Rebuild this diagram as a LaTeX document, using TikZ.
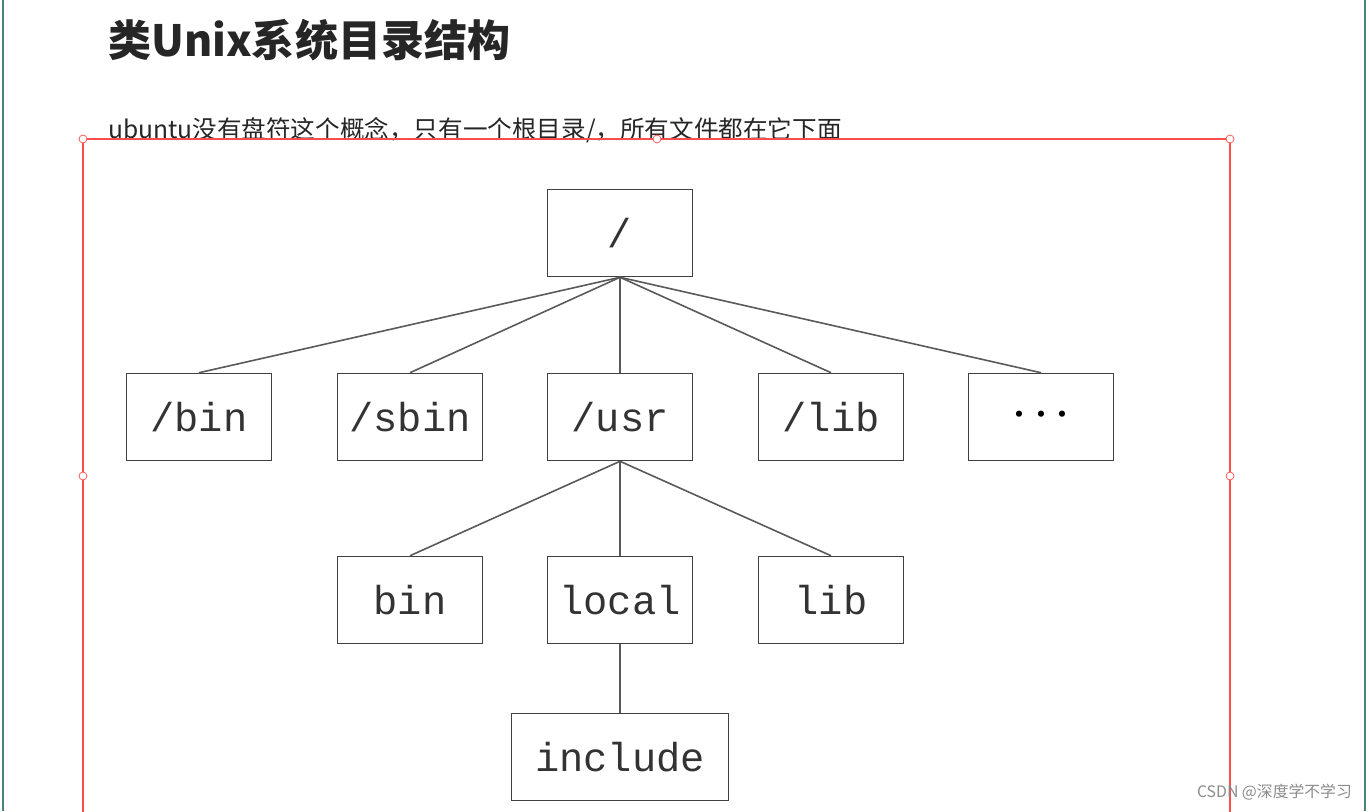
\documentclass[tikz,border=0pt]{standalone}
\usepackage{fontspec}
\newfontfamily\cjk{Noto Sans CJK SC}
\newfontfamily\boxfont{Liberation Mono}
\begin{document}
\begin{tikzpicture}[x=0.02cm,y=-0.02cm,
  dir/.style={draw=black!75,line width=0.9pt,minimum width=2.9cm,minimum height=1.74cm,inner sep=0pt,font=\boxfont\fontsize{23}{23}\selectfont,text=black!80},
  link/.style={draw=black!65,line width=0.9pt},
  handle/.style={circle,draw=red!70,fill=white,inner sep=1.6pt}]
\useasboundingbox (0,0) rectangle (1371,811);
\fill[white] (0,0) rectangle (1371,811);
\draw[teal!40!gray,line width=1.5pt] (3,0) -- (3,811);
\draw[teal!40!gray,line width=1.5pt] (1365,0) -- (1365,811);
\node[anchor=west,font=\cjk\bfseries\fontsize{24.5}{24.5}\selectfont,text=black!85] (title) at (102,40) {类Unix系统目录结构};
\node[anchor=west,font=\cjk\fontsize{14}{14}\selectfont,text=black!85] (sub) at (102,130) {ubuntu没有盘符这个概念，只有一个根目录/，所有文件都在它下面};
\draw[red!70,line width=1pt] (83,830) -- (83,139) -- (1230,139) -- (1230,830);
\foreach \p in {(83,139),(657,139),(1230,139),(83,476),(1230,476)} \node[handle] at \p {};
\node[dir] (root) at (620,233) {/};
\node[dir] (bin) at (199,417) {/bin};
\node[dir] (sbin) at (410,417) {/sbin};
\node[dir] (usr) at (620,417) {/usr};
\node[dir] (lib) at (831,417) {/lib};
\node[dir,font=\cjk\bfseries\fontsize{12.5}{12.5}\selectfont,text=black] (more) at (1041,417) {···};
\node[dir] (ubin) at (410,600) {bin};
\node[dir] (local) at (620,600) {local};
\node[dir] (ulib) at (831,600) {lib};
\node[dir,minimum width=4.34cm] (inc) at (620,757) {include};
\foreach \c in {bin,sbin,usr,lib,more} \draw[link] (root.south) -- (\c.north);
\foreach \c in {ubin,local,ulib} \draw[link] (usr.south) -- (\c.north);
\draw[link] (local.south) -- (inc.north);
\node[anchor=east,font=\cjk\fontsize{9}{9}\selectfont,text=black!45] (wm) at (1358,792) {CSDN @深度学不学习};
\end{tikzpicture}
\end{document}
